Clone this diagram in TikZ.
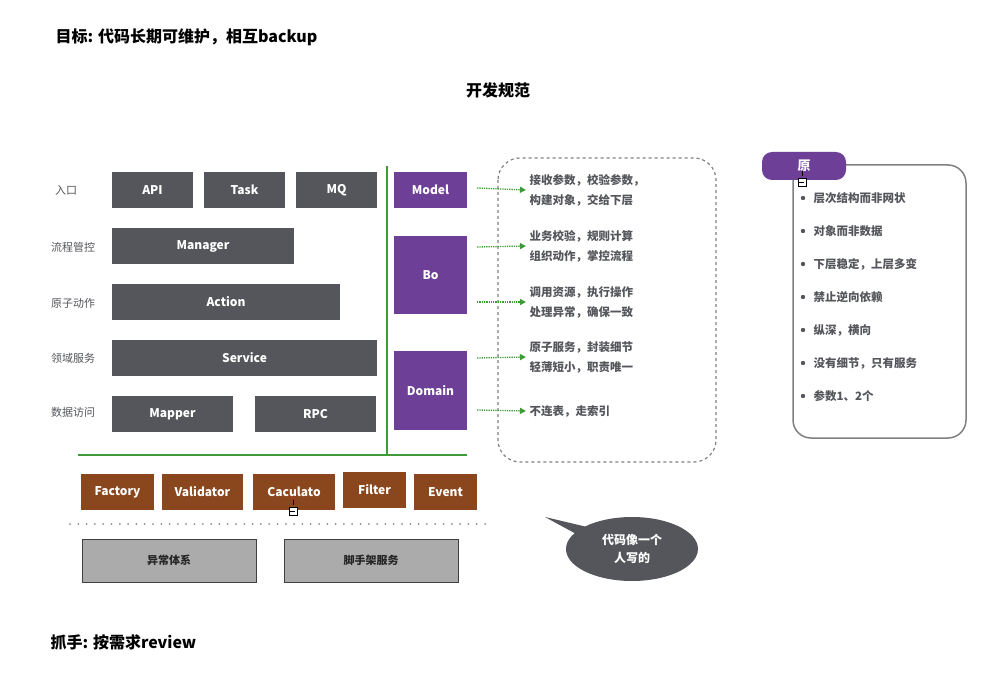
\documentclass[tikz,border=0pt]{standalone}
\usepackage{fontspec}
\setmainfont{Noto Sans CJK SC}
\usetikzlibrary{arrows.meta,shapes.callouts}
\definecolor{dk}{HTML}{54565B}
\definecolor{pu}{HTML}{6E3F97}
\definecolor{br}{HTML}{8A461C}
\definecolor{gr}{HTML}{3F9A3A}
\definecolor{tx}{HTML}{54565B}
\tikzset{
 box/.style={draw=none,fill=dk,text=white,font=\bfseries\fontsize{12}{14}\selectfont,inner sep=0pt},
 pbox/.style={fill=pu,text=white,font=\bfseries\fontsize{12}{14}\selectfont,inner sep=0pt},
 bbox/.style={fill=br,text=white,font=\bfseries\fontsize{12}{14}\selectfont,inner sep=0pt},
 gbox/.style={fill=black!33,draw=black!75,line width=1pt,text=black!85,font=\bfseries\fontsize{11}{13}\selectfont,inner sep=0pt},
 lab/.style={text=tx,font=\fontsize{11}{13}\selectfont},
 desc/.style={text=tx,font=\bfseries\fontsize{11.5}{20}\selectfont,anchor=west,align=left},
 arr/.style={gr,densely dotted,line width=1.3pt,-{Triangle[width=6pt,length=6pt]}},
 bul/.style={text=tx,font=\bfseries\fontsize{11.5}{13}\selectfont,anchor=west},
}
\newcommand{\bx}[6]{\node[#1,minimum width=#4-#2,minimum height=#5-#3] (#6) at ({(#2+#4)/2},{(#3+#5)/2})}
\begin{document}
\begin{tikzpicture}[x=1pt,y=-1pt]
\useasboundingbox (0,0) rectangle (997,674);
\node[anchor=west,font=\bfseries\fontsize{16}{18}\selectfont] (t1) at (52,37) {目标: 代码长期可维护，相互backup};
\node[font=\bfseries\fontsize{16}{18}\selectfont] (t2) at (498,90) {开发规范};
\node[anchor=west,font=\bfseries\fontsize{16}{18}\selectfont] (t3) at (47,642) {抓手: 按需求review};
% row labels
\node[lab] (l1) at (66,190) {入口};
\node[lab] (l2) at (73,247) {流程管控};
\node[lab] (l3) at (73,303) {原子动作};
\node[lab] (l4) at (73,358) {领域服务};
\node[lab] (l5) at (73,412) {数据访问};
% dark boxes
\bx{box}{112}{172}{193}{208}{api} {API};
\bx{box}{204}{172}{285}{208}{task} {Task};
\bx{box}{296}{172}{377}{208}{mq} {MQ};
\bx{box}{112}{228}{294}{264}{mgr} {Manager};
\bx{box}{112}{284}{340}{320}{act} {Action};
\bx{box}{112}{340}{377}{376}{svc} {Service};
\bx{box}{112}{396}{233}{432}{map} {Mapper};
\bx{box}{255}{396}{376}{432}{rpc} {RPC};
% green lines
\coordinate (v1) at (387,166); \coordinate (v2) at (387,455);
\coordinate (h1) at (78,455); \coordinate (h2) at (467,455);
\draw[gr,line width=2pt] (v1) -- (v2);
\draw[gr,line width=2pt] (h1) -- (h2);
% purple
\bx{pbox}{394}{172}{467}{208}{model} {Model};
\bx{pbox}{394}{236}{467}{314}{bo} {Bo};
\bx{pbox}{394}{351}{467}{430}{dom} {Domain};
% dashed box
\draw[black!50,dashed,line width=1.2pt,rounded corners=22pt] (498,158) rectangle (716,462);
% descriptions
\node[desc] (d1) at (526,190) {接收参数，校验参数，\\构建对象，交给下层};
\node[desc] (d2) at (526,246) {业务校验，规则计算\\组织动作，掌控流程};
\node[desc] (d3) at (526,302) {调用资源，执行操作\\处理异常，确保一致};
\node[desc] (d4) at (526,357) {原子服务，封装细节\\轻薄短小，职责唯一};
\node[desc] (d5) at (526,411) {不连表，走索引};
\coordinate (a1) at (477,188); \coordinate (a2) at (477,247);
\coordinate (a3) at (477,302); \coordinate (a4) at (477,358);
\coordinate (a5) at (477,410);
\foreach \i in {1,...,5} \draw[arr] (a\i) -- (d\i.west);
% brown
\bx{bbox}{81}{474}{154}{510}{fac} {Factory};
\bx{bbox}{162}{474}{243}{510}{val} {Validator};
\bx{bbox}{253}{474}{335}{510}{cal} {Caculato};
\bx{bbox}{343}{472}{406}{508}{fil} {Filter};
\bx{bbox}{414}{474}{477}{510}{evt} {Event};
\node[draw=black,fill=white,minimum size=8pt,inner sep=0pt,line width=0.6pt] (pl1) at (293,511) {};
\draw[line width=0.6pt] (pl1.north) ++(0,-1.5) -- ++(0,-5) (pl1.west) ++(1.5,0) -- ++(5,0);
% dotted line
\coordinate (dl1) at (70,524); \coordinate (dl2) at (486,524);
\draw[black!45,line width=2pt,dash pattern=on 0pt off 8.3pt,line cap=round] (dl1) -- (dl2);
% gray
\bx{gbox}{82}{539}{256}{582}{exc} {异常体系};
\bx{gbox}{284}{539}{458}{582}{scf} {脚手架服务};
% bubble
\node[ellipse callout,fill=dk,text=white,minimum width=132pt,minimum height=64pt,inner sep=0pt,
 callout absolute pointer={(545,517)},align=center,font=\bfseries\fontsize{12}{18}\selectfont] (bub) at (632,549) {代码像一个\\人写的};
% right panel
\draw[black!50,line width=1.5pt,rounded corners=18pt] (793,165) rectangle (966,438);
\node[fill=pu,rounded corners=10pt,minimum width=84pt,minimum height=28pt,inner sep=0pt,text=white,font=\bfseries\fontsize{13}{15}\selectfont] (yuan) at (804,166) {原};
\node[draw=black,fill=white,minimum size=8pt,inner sep=0pt,line width=0.6pt] (pl2) at (802,182) {};
\draw[line width=0.6pt] (pl2.north) ++(0,-1.5) -- ++(0,-5) (pl2.west) ++(1.5,0) -- ++(5,0);
\foreach \t/\y [count=\k] in {层次结构而非网状/198,对象而非数据/231,{下层稳定，上层多变}/264,禁止逆向依赖/297,{纵深，横向}/330,{没有细节，只有服务}/363,参数1、2个/396}{
 \fill[tx] (803,\y) circle (2.2pt);
 \node[bul] (b\k) at (810,\y) {\t};
}
\end{tikzpicture}
\end{document}
